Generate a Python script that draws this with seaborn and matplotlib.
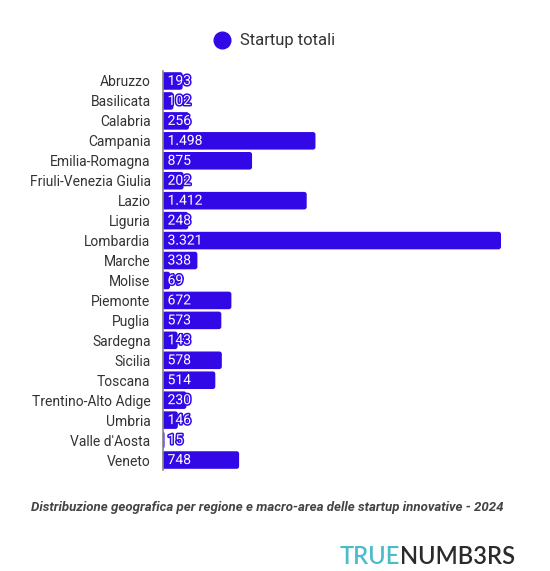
import matplotlib
matplotlib.use("Agg")
import matplotlib.pyplot as plt
import matplotlib.patheffects as pe
from matplotlib.lines import Line2D
from matplotlib.patches import FancyBboxPatch
import seaborn as sns
import pandas as pd

regions = ["Abruzzo", "Basilicata", "Calabria", "Campania", "Emilia-Romagna",
           "Friuli-Venezia Giulia", "Lazio", "Liguria", "Lombardia", "Marche",
           "Molise", "Piemonte", "Puglia", "Sardegna", "Sicilia", "Toscana",
           "Trentino-Alto Adige", "Umbria", "Valle d'Aosta", "Veneto"]
startups = [193, 102, 256, 1498, 875, 202, 1412, 248, 3321, 338,
            69, 672, 573, 143, 578, 514, 230, 146, 15, 748]

BLUE = "#3308e6"

sns.set_theme(style="white")
plt.rcParams['font.family'] = ['Roboto', 'DejaVu Sans']

df = pd.DataFrame({"Regione": regions, "Startup totali": startups})

fig = plt.figure(figsize=(5.5, 5.71), dpi=100)
ax_w_px = 501 - 163
ax_h_px = 470 - 71
ax = fig.add_axes([163/550, 1-470/571, ax_w_px/550, ax_h_px/571])

sns.barplot(data=df, y="Regione", x="Startup totali", orient="h",
            color=BLUE, saturation=1, width=0.88, ax=ax)

xmax = max(startups)
ax.set_xlim(0, xmax)
ax.set_ylim(len(regions)-0.5, -0.5)

# round the right end of the bars
xu = xmax / ax_w_px          # data units per pixel (x)
yu = len(regions) / ax_h_px  # data units per pixel (y)
r = 2.5 * xu
for p in list(ax.patches):
    x, y, w, h = p.get_x(), p.get_y(), p.get_width(), p.get_height()
    p.remove()
    fb = FancyBboxPatch((x - 2*r, y), w + 2*r, h,
                        boxstyle=f"round,pad=0,rounding_size={r}",
                        mutation_aspect=yu/xu, facecolor=BLUE,
                        edgecolor="none", clip_on=True)
    ax.add_patch(fb)

ax.set_xlabel("")
ax.set_ylabel("")
ax.set_xticks([])
for s in ["top", "right", "bottom"]:
    ax.spines[s].set_visible(False)
ax.spines["left"].set_color("#888888")
ax.spines["left"].set_linewidth(1.2)
ax.spines["left"].set_zorder(5)
ax.tick_params(axis="y", length=0, pad=9, labelsize=10, labelcolor="#333333")

def fmt(v):
    return f"{v:,}".replace(",", ".")

for i, v in enumerate(startups):
    ax.text(45, i, fmt(v), va="center", ha="left", color="white",
            fontsize=10, zorder=6,
            path_effects=[pe.withStroke(linewidth=2.2, foreground=BLUE)])

handle = Line2D([], [], marker="o", linestyle="", markersize=12,
                markerfacecolor=BLUE, markeredgecolor=BLUE)
fig.legend([handle], ["Startup totali"], loc="center",
           bbox_to_anchor=(270/550, 1-41/571), frameon=False,
           fontsize=12, handletextpad=0.1, labelcolor="#333333")

fig.text(267/550, 1-508/571,
         "Distribuzione geografica per regione e macro-area delle startup innovative - 2024",
         ha="center", va="center", fontsize=9.5, fontweight="bold",
         style="italic", color="#444444")

t1 = fig.text(340/550, 1-556/571, "TRUE", ha="left", va="center",
              fontsize=17, color="#4bbcc9", fontweight="semibold",
              family=["Lato", "DejaVu Sans"])
fig.canvas.draw()
bb = t1.get_window_extent()
fig.text(bb.x1/550, 1-556/571, "NUMB3RS", ha="left", va="center",
         fontsize=17, color="#2b2b2b", fontweight="semibold",
         family=["Lato", "DejaVu Sans"])

fig.savefig("out.png", dpi=100)
